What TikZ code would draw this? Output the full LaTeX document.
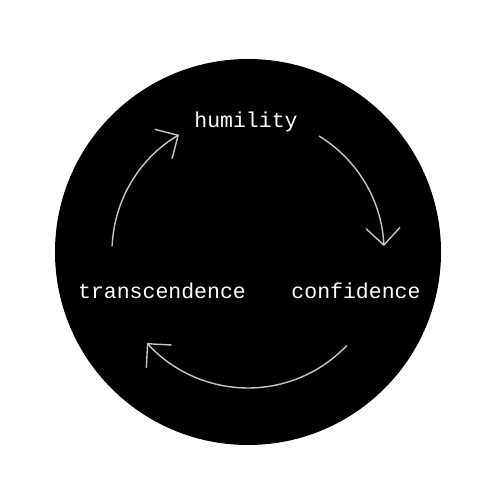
\documentclass[tikz,border=0pt]{standalone}
\usepackage{fontspec}
\setmonofont{Liberation Mono}
\usetikzlibrary{arrows.meta}
\begin{document}
\begin{tikzpicture}[x=1pt,y=1pt,
  lbl/.style={text=white,font=\ttfamily\fontsize{21.5}{24}\selectfont,inner sep=0pt,anchor=base},
  cyc/.style={draw=black!22,line width=1.4pt,-{Straight Barb[length=17pt,width=34pt,line width=1.4pt]}}]
\useasboundingbox (0,0) rectangle (500,500);
\fill[white] (0,0) rectangle (500,500);
\coordinate (c) at (248,248);
\fill[black] (c) circle[radius=193];
\node[lbl] (hum) at (246,372) {humility};
\node[lbl] (tra) at (162,201) {transcendence};
\node[lbl] (con) at (356,201) {confidence};
\coordinate (s1) at ([shift={(177.5:136)}]c);
\coordinate (s2) at ([shift={(58.5:136)}]c);
\coordinate (s3) at ([shift={(-43.5:136)}]c);
\draw[cyc] (s1) arc[start angle=177.5,end angle=120.5,radius=136];
\draw[cyc] (s2) arc[start angle=58.5,end angle=2.5,radius=136];
\draw[cyc] (s3) arc[start angle=-43.5,end angle=-138,radius=136];
\end{tikzpicture}
\end{document}
